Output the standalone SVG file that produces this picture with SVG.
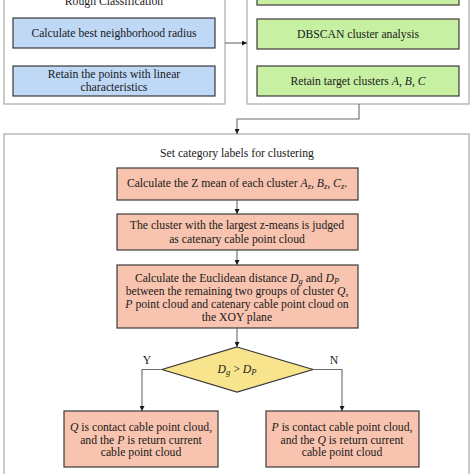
<svg xmlns="http://www.w3.org/2000/svg" width="474" height="474" viewBox="0 0 474 474">
<style>
.outer{fill:#fff;stroke:#a8a8a8;stroke-width:1.2}
.blue{fill:#bed8f6;stroke:#3a3a3a;stroke-width:1.2}
.green{fill:#c8f0a2;stroke:#3a3a3a;stroke-width:1.2}
.red{fill:#f8c4af;stroke:#3a3a3a;stroke-width:1.2}
.yel{fill:#f8e48c;stroke:#3a3a3a;stroke-width:1.2}
text{font-family:"Liberation Serif","DejaVu Serif",serif;font-size:11.7px;fill:#1a1a1a;text-anchor:middle}
.i{font-style:italic}
.sub{font-size:8.5px;font-style:italic}
.c{fill:none;stroke:#6a6a6a;stroke-width:1.1}
</style>
<defs>
<marker id="ah" viewBox="0 0 8 8" refX="8" refY="4" markerWidth="5" markerHeight="5" orient="auto" markerUnits="userSpaceOnUse">
<path d="M0,0 L8,4 L0,8 z" fill="#1a1a1a"/>
</marker>
</defs>
<rect width="474" height="474" fill="#fff"/>
<g id="rough">
<rect class="outer" x="4" y="-20" width="221" height="124"/>
<text x="114" y="5">Rough Classification</text>
</g>
<g id="fine">
<rect class="outer" x="247" y="-20" width="222" height="124"/>
</g>
<g id="setlabels">
<rect class="outer" x="4" y="134" width="465" height="360"/>
<text x="237" y="157">Set category labels for clustering</text>
</g>
<g id="radius">
<rect class="blue" x="13" y="18" width="202" height="30"/>
<text x="114" y="37">Calculate best neighborhood radius</text>
</g>
<g id="linear">
<rect class="blue" x="13" y="66" width="202" height="30"/>
<text x="114" y="78">Retain the points with linear</text>
<text x="114" y="91">characteristics</text>
</g>
<g id="greentop">
<rect class="green" x="257" y="-30" width="202" height="35"/>
</g>
<g id="dbscan">
<rect class="green" x="257" y="19" width="202" height="30"/>
<text x="358" y="38">DBSCAN cluster analysis</text>
</g>
<g id="retain">
<rect class="green" x="257" y="66" width="202" height="30"/>
<text x="358" y="85">Retain target clusters <tspan class="i">A</tspan>, <tspan class="i">B</tspan>, <tspan class="i">C</tspan></text>
</g>
<g id="zmean">
<rect class="red" x="117" y="168" width="241" height="32"/>
<text x="237" y="187">Calculate the Z mean of each cluster <tspan class="i">A</tspan><tspan class="sub" dy="2">z</tspan><tspan dy="-2">, </tspan><tspan class="i">B</tspan><tspan class="sub" dy="2">z</tspan><tspan dy="-2">, </tspan><tspan class="i">C</tspan><tspan class="sub" dy="2">z</tspan><tspan dy="-2">.</tspan></text>
</g>
<g id="largest">
<rect class="red" x="117" y="214" width="241" height="36"/>
<text x="237" y="229">The cluster with the largest z-means is judged</text>
<text x="237" y="243">as catenary cable point cloud</text>
</g>
<g id="euclid">
<rect class="red" x="117" y="265" width="241" height="63"/>
<text x="237" y="282">Calculate the Euclidean distance <tspan class="i">D</tspan><tspan class="sub" dy="2">g</tspan><tspan dy="-2"> and  </tspan><tspan class="i">D</tspan><tspan class="sub" dy="2">P</tspan></text>
<text x="237" y="295">between the remaining two groups of cluster <tspan class="i">Q</tspan>,</text>
<text x="237" y="308"><tspan class="i">P</tspan> point cloud and catenary cable point cloud on</text>
<text x="237" y="321">the XOY plane</text>
</g>
<g id="decision">
<polygon class="yel" points="237,347 313,369.5 237,392 162,369.5"/>
<text x="237" y="373"><tspan class="i">D</tspan><tspan class="sub" dy="2">g</tspan><tspan dy="-2"> &gt; </tspan><tspan class="i">D</tspan><tspan class="sub" dy="2">P</tspan></text>
<text x="147" y="364">Y</text>
<text x="334" y="364">N</text>
</g>
<g id="qcontact">
<rect class="red" x="64" y="411" width="154" height="56"/>
<text x="141" y="431"><tspan class="i">Q</tspan> is contact cable point cloud,</text>
<text x="141" y="444">and the <tspan class="i">P</tspan> is return current</text>
<text x="141" y="456">cable point cloud</text>
</g>
<g id="pcontact">
<rect class="red" x="266" y="411" width="153" height="56"/>
<text x="342" y="431"><tspan class="i">P</tspan> is contact cable point cloud,</text>
<text x="342" y="444">and the <tspan class="i">Q</tspan> is return current</text>
<text x="342" y="456">cable point cloud</text>
</g>
<g id="connectors">
<path class="c" d="M225,43 H247" marker-end="url(#ah)"/>
<path class="c" d="M359,104 V119 H237 V134" marker-end="url(#ah)"/>
<path class="c" d="M237,200 V214" marker-end="url(#ah)"/>
<path class="c" d="M237,250 V265" marker-end="url(#ah)"/>
<path class="c" d="M237,328 V347" marker-end="url(#ah)"/>
<path class="c" d="M162,369.5 H142 V411" marker-end="url(#ah)"/>
<path class="c" d="M313,369.5 H342 V411" marker-end="url(#ah)"/>
</g>
</svg>
